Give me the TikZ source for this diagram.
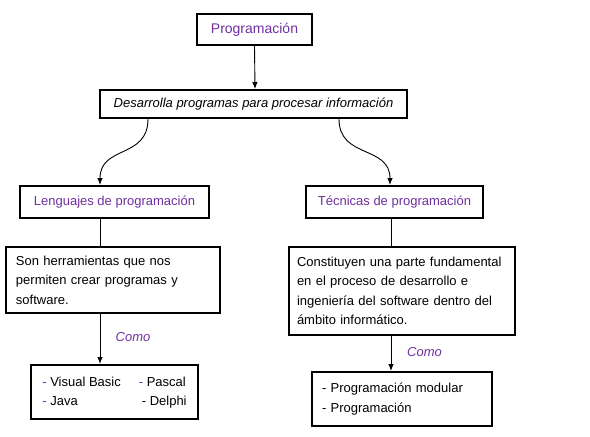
\documentclass[tikz,border=0pt]{standalone}
\usepackage{fontspec}
\setmainfont{Liberation Sans}
\usetikzlibrary{arrows.meta}
\definecolor{purp}{RGB}{112,48,160}
\begin{document}
\begin{tikzpicture}[x=1pt,y=-1pt,
  box/.style={draw,line width=2pt,inner sep=0pt,font=\fontsize{13}{19.5}\selectfont},
  conn/.style={line width=0.9pt,-{Latex[length=7pt,width=5.5pt]}},
  plain/.style={line width=0.9pt}]
\useasboundingbox[fill=white] (0,0) rectangle (590,437);
\node[box,minimum width=115,minimum height=31,text=purp,font=\fontsize{14}{16}\selectfont] (prog) at (254.5,29.5) {Programación};
\node[box,minimum width=307,minimum height=28] (des) at (253.5,104) {\itshape Desarrolla programas para procesar información};
\node[box,minimum width=189,minimum height=32,text=purp] (len) at (114.5,202) {Lenguajes de programación};
\node[box,minimum width=177,minimum height=32,text=purp] (tec) at (394.5,202) {Técnicas de programación};
\node[box,minimum width=214,minimum height=66,text width=194,inner xsep=10pt,align=left] (son) at (113,280)
  {Son herramientas que nos\\permiten crear programas y\\software.};
\node[box,minimum width=226,minimum height=88,text width=210,inner xsep=8pt,align=left] (con) at (402,291)
  {Constituyen una parte fundamental\\en el proceso de desarrollo e\\ingeniería del software dentro del\\ámbito informático.};
\node[box,minimum width=167,minimum height=54] (vb) at (114.5,392)
  {\begin{tabular}{@{}l@{\hspace{18pt}}l@{}}
   {\color{purp}-} Visual Basic & {\color{purp}-} Pascal\\[-1pt]
   {\color{purp}-} Java & \hspace{3pt}- Delphi
   \end{tabular}};
\node[box,minimum width=180,minimum height=54,text width=160,inner xsep=10pt,align=left,
  font=\fontsize{13}{20}\selectfont] (pm) at (402,399)
  {- Programación modular\\- Programación};
\node[text=purp,font=\fontsize{13}{15}\selectfont\itshape] (como1) at (133,337) {Como};
\node[text=purp,font=\fontsize{13}{15}\selectfont\itshape] (como2) at (424.5,352) {Como};
\draw[conn] (prog.south) -- ([xshift=1.5]des.north);
\draw[conn] ([xshift=49]des.south west) .. controls +(0,40) and +(0,-40) .. ([xshift=-14.5]len.north);
\draw[conn] ([xshift=240]des.south west) .. controls +(0,40) and +(0,-40) .. ([xshift=-4.5]tec.north);
\draw[plain] ([xshift=-14.5]len.south) -- ([xshift=-13]son.north);
\draw[plain] ([xshift=-3.5]tec.south) -- ([xshift=-11]con.north);
\draw[conn] ([xshift=-13]son.south) -- ([xshift=-14.5]vb.north);
\draw[conn] ([xshift=-11]con.south) -- ([xshift=-11]pm.north);
\end{tikzpicture}
\end{document}
